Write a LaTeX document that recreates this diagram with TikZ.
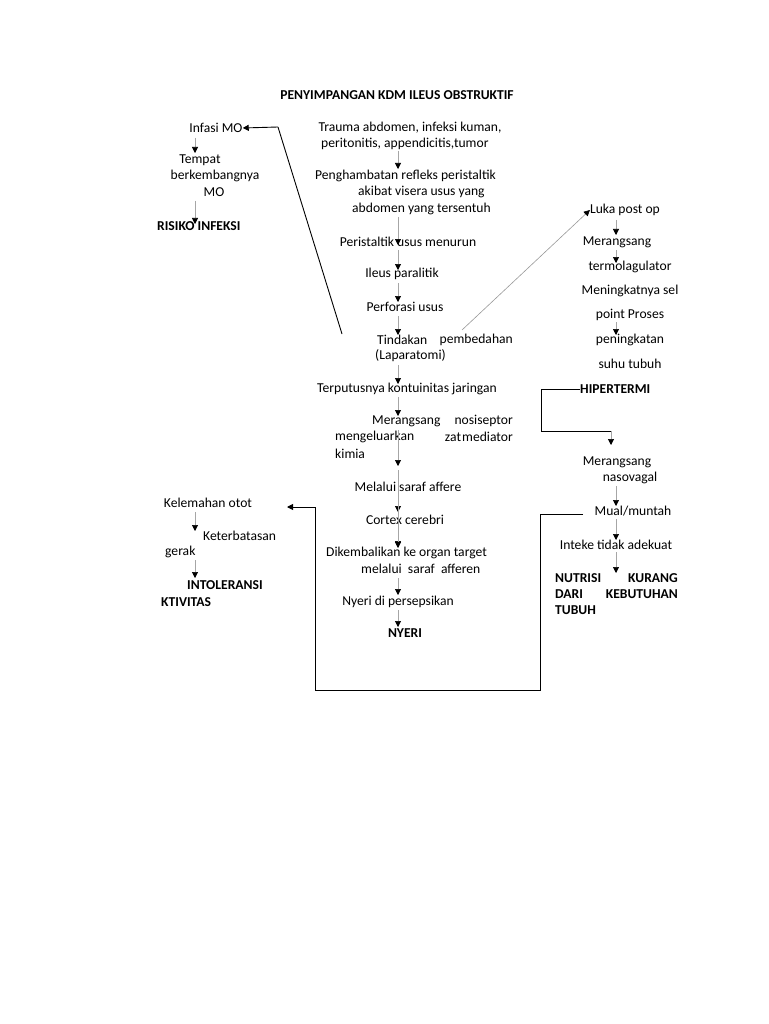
\documentclass[tikz,border=0pt]{standalone}
\usepackage{fontspec}
\setmainfont{Carlito}
\usetikzlibrary{arrows.meta}
\begin{document}
\begin{tikzpicture}[x=1pt,y=-1pt,
  every node/.style={inner sep=0pt,font=\fontsize{13.6}{16}\selectfont},
  t/.style={anchor=west},
  c/.style={anchor=center},
  b/.style={anchor=west,font=\fontsize{13.6}{16}\selectfont\bfseries},
  arr/.style={draw=gray!70,line width=0.6pt,-{Triangle[black,length=6pt,width=6pt]}},
  ln/.style={draw=black,line width=0.9pt},
  lna/.style={draw=black,line width=0.9pt,-{Triangle[black,length=6pt,width=6pt]}},
  thin/.style={draw=gray!80,line width=0.6pt,-{Triangle[black,length=6pt,width=6pt]}}]
\useasboundingbox (0,0) rectangle (768,1024);
\fill[white] (0,0) rectangle (768,1024);
\node[c,font=\fontsize{13.6}{16}\selectfont\bfseries] (title) at (397,95) {PENYIMPANGAN KDM ILEUS OBSTRUKTIF};
% left column
\node[c] (inf) at (216,128) {Infasi MO};
\node[c] (temp1) at (200,160) {Tempat};
\node[c] (temp2) at (215,176) {berkembangnya};
\node[c] (temp3) at (214,192) {MO};
\node[b] (risk) at (157,226) {RISIKO INFEKSI};
\draw[arr] (195,138) -- (195,153);
\draw[arr] (195,201) -- (195,224);
\coordinate (bend) at (278,127);
\draw[ln] (342,334) -- (bend);
\draw[lna] (bend) -- (inf.east);
% centre column
\node[c] (tr1) at (410,128) {Trauma abdomen, infeksi kuman,};
\node[t] (tr2) at (321,144) {peritonitis, appendicitis,tumor};
\node[t] (ph1) at (315,176) {Penghambatan refleks peristaltik};
\node[t] (ph2) at (358,192) {akibat visera usus yang};
\node[t] (ph3) at (352,209) {abdomen yang tersentuh};
\node[c] (per) at (408,242) {Peristaltik usus menurun};
\node[c] (ile) at (402,274) {Ileus paralitik};
\node[c] (perf) at (405,307) {Perforasi usus};
\node[t] (tin1) at (377,340) {Tindakan};
\node[anchor=east] (tin1b) at (513,340) {pembedahan};
\node[t] (tin2) at (375,356) {(Laparatomi)};
\node[t] (ter) at (317,389) {Terputusnya kontuinitas jaringan};
\node[t] (mer1) at (372,421) {Merangsang};
\node[anchor=east] (mer1b) at (513,421) {nosiseptor};
\node[t] (mer2) at (335,437) {mengeluarkan};
\node[c] (mer2b) at (453,437) {zat};
\node[anchor=east] (mer2c) at (513,437) {mediator};
\node[t] (mer3) at (335,454) {kimia};
\node[c] (mel) at (408,487) {Melalui saraf affere};
\node[c] (cor) at (405,520) {Cortex cerebri};
\node[t] (dik1) at (326,553) {Dikembalikan ke organ target};
\node[t] (dik2) at (361,569) {melalui\ \ saraf\ \ afferen};
\node[c] (nye) at (398,602) {Nyeri di persepsikan};
\node[c,font=\fontsize{13.6}{16}\selectfont\bfseries] (nyeri) at (405,633) {NYERI};
\foreach \a/\b in {150/169,217/246,250/269,282/302,315/335,364/384,398/416,430/465,470/511,495/546,528/594,577/627,610/628}{}
\draw[arr] (398,151) -- (398,169);
\draw[arr] (398,217) -- (398,245);
\draw[arr] (398,250) -- (398,270);
\draw[arr] (398,283) -- (398,302);
\draw[arr] (398,316) -- (398,335);
\draw[arr] (398,365) -- (398,384);
\draw[arr] (398,397) -- (398,416);
\draw[arr] (398,430) -- (398,466);
\draw[arr] (398,470) -- (398,512);
\draw[arr] (398,496) -- (398,547);
\draw[arr] (398,529) -- (398,548);
\draw[arr] (398,578) -- (398,595);
\draw[arr] (398,610) -- (398,627);
% right column
\node[c] (luka) at (625,210) {Luka post op};
\draw[thin] (462,330) -- (luka.west);
\node[c] (mr1) at (617,242) {Merangsang};
\node[c] (mr2) at (630,267) {termolagulator};
\node[c] (mr3) at (630,291) {Meningkatnya sel};
\node[c] (mr4) at (630,315) {point Proses};
\node[c] (mr5) at (630,340) {peningkatan};
\node[c] (mr6) at (630,364) {suhu tubuh};
\node[b] (hip) at (580,389) {HIPERTERMI};
\draw[arr] (616,220) -- (616,235);
\draw[arr] (616,250) -- (616,263);
\draw[arr] (616,322) -- (616,335);
\coordinate (h1) at (541,389); \coordinate (h2) at (541,431); \coordinate (h3) at (611,431);
\draw[ln] (hip.west) -- (h1) -- (h2) -- (h3);
\draw[arr] (h3) -- (611,445);
\node[c] (nas1) at (617,462) {Merangsang};
\node[c] (nas2) at (630,478) {nasovagal};
\node[c] (mual) at (633,511) {Mual/muntah};
\draw[arr] (616,486) -- (616,506);
\node[c] (int) at (616,545) {Inteke tidak adekuat};
\draw[arr] (616,519) -- (616,540);
\draw[arr] (616,552) -- (616,573);
\node[b] (nu1) at (555,578) {NUTRISI};
\node[anchor=east,font=\fontsize{13.6}{16}\selectfont\bfseries] (nu1b) at (678,578) {KURANG};
\node[b] (nu2) at (555,594) {DARI};
\node[anchor=east,font=\fontsize{13.6}{16}\selectfont\bfseries] (nu2b) at (678,594) {KEBUTUHAN};
\node[b] (nu3) at (555,610) {TUBUH};
% loop to left
\node[c] (kel) at (208,503) {Kelemahan otot};
\coordinate (l1) at (540,514); \coordinate (l2) at (540,690); \coordinate (l3) at (315,690); \coordinate (l4) at (315,507);
\draw[ln] (583,514) -- (l1) -- (l2) -- (l3) -- (l4);
\draw[lna] (l4) -- (287,507);
\node[t] (ket1) at (203,536) {Keterbatasan};
\node[t] (ket2) at (165,552) {gerak};
\node[b] (int1) at (187,585) {INTOLERANSI};
\node[b] (int2) at (161,602) {KTIVITAS};
\draw[arr] (195,512) -- (195,531);
\draw[arr] (195,560) -- (195,578);
\end{tikzpicture}
\end{document}
